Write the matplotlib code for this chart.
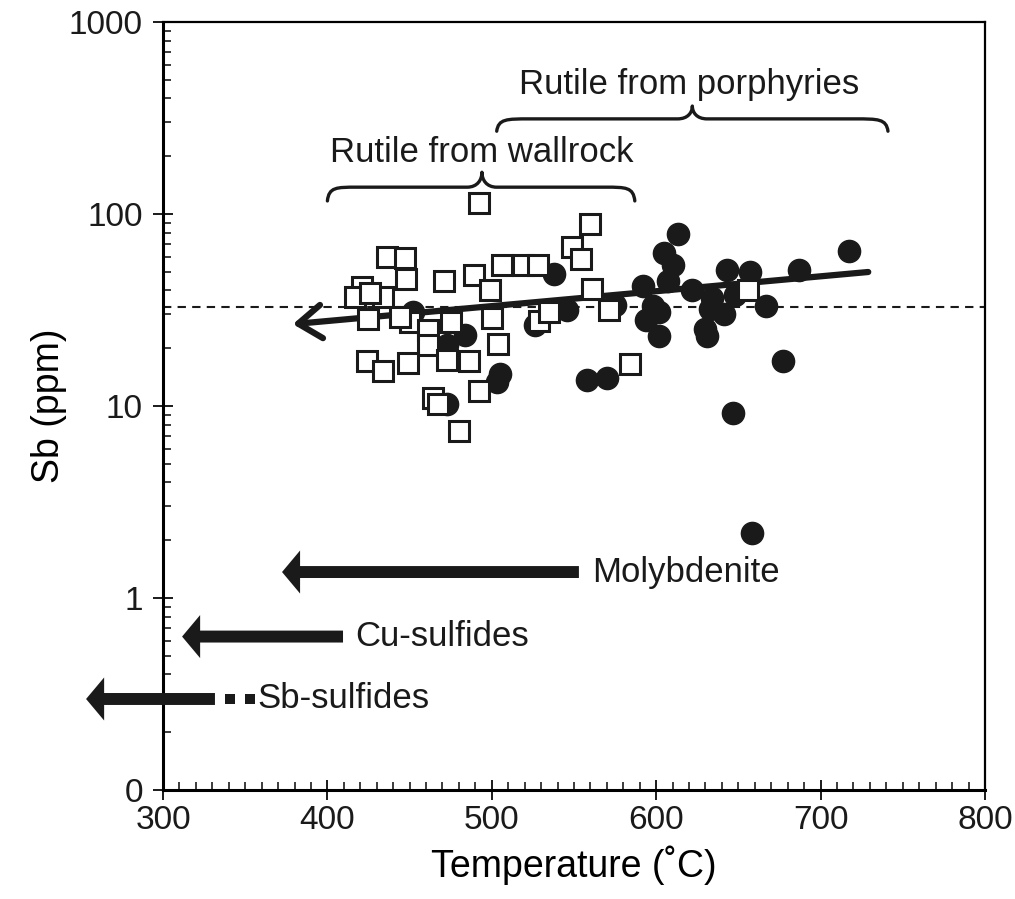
import matplotlib
matplotlib.use("Agg")
import matplotlib.pyplot as plt
from matplotlib.path import Path
from matplotlib.patches import PathPatch
from matplotlib.ticker import FixedLocator, LogLocator, MultipleLocator, NullFormatter

plt.rcParams["font.family"] = ["Liberation Sans", "DejaVu Sans"]

INK = "#1a1a1a"

# rutile from wallrock (open squares): temperature (C), Sb (ppm)
wall_t = [492, 560, 549, 554, 436, 447, 448, 471, 489, 506, 519, 528, 499, 421,
          417, 434, 426, 561, 425, 450, 444, 461, 475, 500, 529, 571, 535, 504,
          461, 424, 434, 449, 473, 486, 584, 492, 464, 467, 480, 656]
wall_sb = [114, 89, 67, 58, 60, 59, 46, 45, 48, 54, 54, 54, 40, 41.5,
           37, 37, 39, 40.5, 28.3, 27.4, 29, 25, 27.4, 28.7, 27.7, 31.7, 31, 21,
           20.8, 17.2, 15.2, 16.7, 17.4, 17.2, 16.6, 12, 11, 10.2, 7.4, 40.2]

# rutile from porphyries (filled circles)
por_t = [538, 452, 484, 473, 526, 546, 505, 503, 558, 570, 473, 575, 592, 613,
         605, 610, 607, 622, 643, 657, 687, 717, 648, 667, 634, 633, 641, 598,
         602, 594, 602, 630, 631, 677, 647, 658]
por_sb = [49, 31, 23.4, 20.8, 26.5, 31.6, 14.7, 13.3, 13.6, 14, 10.2, 33.5, 42, 79,
          63, 54, 45, 40, 51, 50, 51, 64, 38, 33, 36.5, 32, 30, 33,
          31, 28, 23.2, 25.2, 23.2, 17.1, 9.2, 2.18]

# trend line (arrow points to lower T) and mean level
trend_t = [729, 379]
trend_sb = [49.9, 26.7]
mean_sb = 32.8

# sulfide reference arrows: label, tail T, tip T, Sb, label T
sulfide_names = ["Molybdenite", "Cu-sulfides", "Sb-sulfides"]
sulfide_tail = [553, 409.5, 331.6]
sulfide_tip = [372.4, 311.6, 253.2]
sulfide_sb = [1.366, 0.63, 0.298]
sulfide_text_t = [561, 416.8, 357.3]
sb_dots_t = [341, 353]

y_ticks = [0.1, 1, 10, 100, 1000]
y_labels = ["0", "1", "10", "100", "1000"]


def brace(ax, x0, x1, xm, yb, yh, yp, curl, neck):
    ymid = (yh * yp) ** 0.5
    verts = [(x0, yb), (x0 + 0.05 * curl, yh), (x0 + 0.3 * curl, yh), (x0 + curl, yh),
             (xm - neck, yh),
             (xm - 0.3 * neck, yh), (xm, ymid), (xm, yp),
             (xm, ymid), (xm + 0.3 * neck, yh), (xm + neck, yh),
             (x1 - curl, yh),
             (x1 - 0.3 * curl, yh), (x1 - 0.05 * curl, yh), (x1, yb)]
    codes = [Path.MOVETO, Path.CURVE4, Path.CURVE4, Path.CURVE4,
             Path.LINETO,
             Path.CURVE4, Path.CURVE4, Path.CURVE4,
             Path.CURVE4, Path.CURVE4, Path.CURVE4,
             Path.LINETO,
             Path.CURVE4, Path.CURVE4, Path.CURVE4]
    ax.add_patch(PathPatch(Path(verts, codes), fill=False, lw=2.4, ec=INK,
                           capstyle="round", joinstyle="round", clip_on=False))


fig = plt.figure(figsize=(10.15, 8.99), dpi=100)
ax = fig.add_axes([0.1606, 0.1212, 0.8098, 0.8543])
ax.set_yscale("log")
ax.set_xlim(300, 800)
ax.set_ylim(0.1, 1000)

ax.axhline(mean_sb, color=INK, lw=1.5, ls=(0, (4, 3)), zorder=1)
ax.plot(por_t, por_sb, "o", ms=16, color=INK, mec=INK, zorder=2)
ax.annotate("", xy=(trend_t[1], trend_sb[1]), xytext=(trend_t[0], trend_sb[0]),
            arrowprops=dict(arrowstyle="->,head_length=0.42,head_width=0.3",
                            lw=4.5, color=INK, shrinkA=0, shrinkB=0,
                            mutation_scale=40), zorder=3)
ax.plot(wall_t, wall_sb, "s", ms=15, mfc="white", mec=INK, mew=2.2, zorder=4)

for name, t0, t1, sb, tt in zip(sulfide_names, sulfide_tail, sulfide_tip,
                                sulfide_sb, sulfide_text_t):
    ax.annotate("", xy=(t1, sb), xytext=(t0, sb), annotation_clip=False,
                arrowprops=dict(arrowstyle="simple,head_length=0.65,head_width=1.55,tail_width=0.43",
                                mutation_scale=20, fc=INK, ec=INK, lw=0,
                                shrinkA=0, shrinkB=0, clip_on=False))
    ax.text(tt, sb, name, fontsize=25, va="center", ha="left", color=INK)
ax.plot(sb_dots_t, [sulfide_sb[2]] * 2, "s", ms=7, color=INK, mew=0)

brace(ax, 400, 587, 494, 117, 138, 165, 18, 9)
brace(ax, 503, 741, 622, 270, 313, 365, 20, 9)
ax.text(494, 210, "Rutile from wallrock", fontsize=25, ha="center", va="center", color=INK)
ax.text(620, 475, "Rutile from porphyries", fontsize=25, ha="center", va="center", color=INK)

ax.yaxis.set_major_locator(FixedLocator(y_ticks))
ax.set_yticklabels(y_labels)
ax.yaxis.set_minor_locator(LogLocator(base=10, subs=range(2, 10)))
ax.yaxis.set_minor_formatter(NullFormatter())
ax.xaxis.set_major_locator(MultipleLocator(100))
ax.xaxis.set_minor_locator(MultipleLocator(10))

ax.tick_params(which="major", direction="inout", length=15, width=1.4,
               labelsize=24, colors=INK)
ax.tick_params(axis="x", which="major", pad=3)
ax.tick_params(axis="y", which="major", pad=7)
ax.tick_params(which="minor", direction="in", length=6, width=1.2, colors=INK)
for side in ["left", "bottom"]:
    ax.spines[side].set_linewidth(2.2)
for side in ["top", "right"]:
    ax.spines[side].set_linewidth(1.6)

ax.set_xlabel("Temperature (˚C)", fontsize=27, labelpad=7)
ax.set_ylabel("Sb (ppm)", fontsize=27, labelpad=1)

fig.savefig("out.png", dpi=100)
